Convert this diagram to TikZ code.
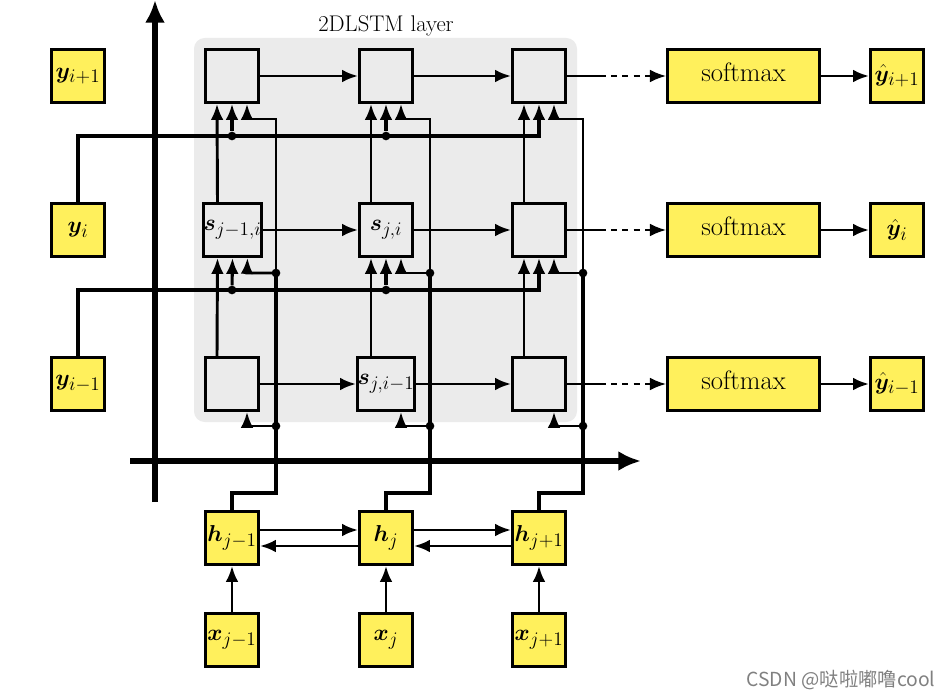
\documentclass[tikz,border=0pt]{standalone}
\usepackage{fontspec}
\usepackage{bm}
\usetikzlibrary{arrows.meta,calc}
\newfontfamily\cjk{Noto Sans CJK SC}
\definecolor{boxyellow}{HTML}{FFF05C}
\definecolor{layergray}{HTML}{EBEBEB}
\tikzset{
  cell/.style={draw=black,line width=2.3pt,inner sep=0pt,minimum size=39.5pt,
    font=\fontsize{19}{22}\selectfont},
  grid/.style={cell,fill=layergray},
  io/.style={cell,fill=boxyellow},
  soft/.style={io,minimum width=114pt,font=\fontsize{20}{22}\selectfont,
    text height=14pt,text depth=6.5pt},
  wire/.style={line width=2.2pt,-{Latex[length=12pt,width=9.5pt]}},
  state/.style={wire,line width=2.3pt},
  axis/.style={line width=4.6pt,-{Latex[length=17pt,width=15pt]}},
  junction/.style={circle,fill=black,inner sep=0pt,minimum size=6.5pt},
}
\begin{document}
\begin{tikzpicture}[x=0.75pt,y=-0.75pt]
\useasboundingbox (0,0) rectangle (949,699);

% layer background
\fill[layergray,rounded corners=8pt] (194,38) rectangle (577,422);
\node[font=\fontsize{17}{19}\selectfont] (title) at (386,26) {2DLSTM layer};

% axes
\coordinate (vstart) at (155,502);
\coordinate (vend) at (155,0);
\coordinate (hstart) at (130,461);
\coordinate (hend) at (641,461);
\draw[axis] (vstart) -- (vend);
\draw[axis] (hstart) -- (hend);

% 2DLSTM cells
\node[grid] (g11) at (232,76) {};
\node[grid] (g12) at (386,76) {};
\node[grid] (g13) at (539,76) {};
\node[grid] (g21) at (232.5,230) {$\bm{s}_{j-1,i}$};
\node[grid] (g22) at (386,230) {$\bm{s}_{j,i}$};
\node[grid] (g23) at (539,230) {};
\node[grid] (g31) at (232,384) {};
\node[grid] (g32) at (386,384) {$\bm{s}_{j,i-1}$};
\node[grid] (g33) at (539,384) {};

% targets, softmax
\node[io] (y1) at (78,76) {$\bm{y}_{i+1}$};
\node[io] (y2) at (78,230) {$\bm{y}_{i}$};
\node[io] (y3) at (78,384) {$\bm{y}_{i-1}$};
\node[soft] (m1) at (743.5,76) {softmax};
\node[soft] (m2) at (743.5,230) {softmax};
\node[soft] (m3) at (743.5,384) {softmax};
\node[io] (p1) at (897,76) {$\bm{\hat{y}}_{i+1}$};
\node[io] (p2) at (897,230) {$\bm{\hat{y}}_{i}$};
\node[io] (p3) at (897,384) {$\bm{\hat{y}}_{i-1}$};

% encoder
\node[io] (h1) at (232,538) {$\bm{h}_{j-1}$};
\node[io] (h2) at (386,538) {$\bm{h}_{j}$};
\node[io] (h3) at (539,538) {$\bm{h}_{j+1}$};
\node[io] (x1) at (232,640) {$\bm{x}_{j-1}$};
\node[io] (x2) at (386,640) {$\bm{x}_{j}$};
\node[io] (x3) at (539,640) {$\bm{x}_{j+1}$};

\foreach \c in {1,2,3} \draw[wire] (x\c) -- (h\c);
\foreach \a/\b in {1/2,2/3} {
  \draw[wire] ([yshift=6pt]h\a.east) -- ([yshift=6pt]h\b.west);
  \draw[wire] ([yshift=-6pt]h\b.west) -- ([yshift=-6pt]h\a.east);
  \foreach \r in {1,2,3} \draw[wire] (g\r\a) -- (g\r\b);
}

% cell to cell, upwards
\foreach \c in {1,2,3} \foreach \r/\s in {2/1,3/2}
  \draw[wire] ([xshift=-11.25pt]g\r\c.north) -- ([xshift=-11.25pt]g\s\c.south);

% decoder state lines
\coordinate (e1) at (539,136);
\coordinate (e2) at (539,290);
\draw[state] (y2.north) |- (e1) -- (g13.south);
\draw[state] (y3.north) |- (e2) -- (g23.south);
\foreach \r/\ey in {1/136,2/290} \foreach \c/\x in {1/232,2/386} {
  \node[junction] (n\r\c) at (\x,\ey) {};
  \draw[state] (n\r\c) -- (g\r\c.south);
}

% attention lines from the encoder
\foreach \c/\x in {1/232,2/386,3/539} {
  \coordinate (k\c) at (\x+44,493);
  \coordinate (t\c) at (\x+44,119);
  \coordinate (u\c) at (\x+15,119);
  \node[junction] (a\c) at (\x+44,273) {};
  \node[junction] (b\c) at (\x+44,426) {};
  \coordinate (au\c) at (\x+15,273);
  \coordinate (bu\c) at (\x+15,426);
  \draw[line width=2.8pt] (h\c.north) |- (k\c) -- (b\c.center);
  \draw[line width=2.4pt] (b\c.center) -- (a\c.center);
  \draw[wire] (a\c.center) -- (t\c) -- (u\c) -- ([xshift=11.25pt]g1\c.south);
  \draw[wire] (a\c.center) -- (au\c) -- ([xshift=11.25pt]g2\c.south);
  \draw[wire] (b\c.center) -- (bu\c) -- ([xshift=11.25pt]g3\c.south);
}

% outputs
\foreach \r/\y in {1/76,2/230,3/384} {
  \coordinate (o\r) at (606,\y);
  \coordinate (q\r) at (611,\y);
  \draw[line width=1.2pt] (g\r3.east) -- (o\r);
  \draw[wire,line width=1.3pt,dash pattern=on 4.5pt off 4pt] (q\r) -- (m\r.west);
  \draw[wire] (m\r) -- (p\r);
}

\node[font=\cjk\fontsize{14.5}{16}\selectfont,text=black!50] (mark) at (841,680) {CSDN @哒啦嘟噜cool};
\end{tikzpicture}
\end{document}
